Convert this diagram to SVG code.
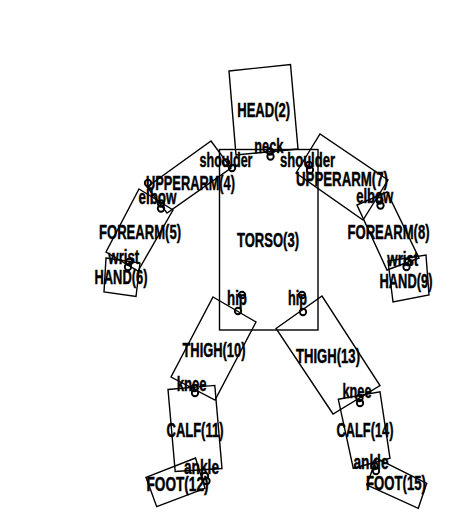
<svg xmlns="http://www.w3.org/2000/svg" width="474" height="531" viewBox="0 0 474 531">
<style>
.part{fill:none;stroke:#000;stroke-width:1.4;stroke-linejoin:miter}
.jt{fill:none;stroke:#000;stroke-width:1.9}
text{font-family:"Liberation Sans Narrow","Liberation Sans",Arial,sans-serif;font-weight:bold;font-size:19.5px;fill:#000;stroke:#000;stroke-width:0.45;text-anchor:middle}
</style>
<rect width="474" height="531" fill="#fff"/>
<g id="HEAD2"><polygon class="part" points="229,71 290.5,64.5 298,149 236,155"/><text x="263.7" y="117" textLength="53" lengthAdjust="spacingAndGlyphs">HEAD(2)</text></g>
<g id="TORSO3"><rect class="part" x="219.5" y="149.5" width="98.5" height="180.5"/><text x="268" y="247" textLength="62" lengthAdjust="spacingAndGlyphs">TORSO(3)</text></g>
<g id="UPPERARM4"><polygon class="part" points="147,187 211,141 231,168 167,213"/><text x="190.5" y="190" textLength="89" lengthAdjust="spacingAndGlyphs">UPPERARM(4)</text></g>
<g id="FOREARM5"><polygon class="part" points="139,189 173,210 138,271 106,252"/><text x="140" y="238.5" textLength="82" lengthAdjust="spacingAndGlyphs">FOREARM(5)</text></g>
<g id="HAND6"><polygon class="part" points="106,258 140,263 136,296.5 104,292"/><text x="121" y="283.5" textLength="53" lengthAdjust="spacingAndGlyphs">HAND(6)</text></g>
<g id="UPPERARM7"><polygon class="part" points="296,173 320,134 388,180 363,220"/><text x="342" y="186" textLength="92" lengthAdjust="spacingAndGlyphs">UPPERARM(7)</text></g>
<g id="FOREARM8"><polygon class="part" points="357,205 387,192 419,258 387,270"/><text x="388.5" y="238.5" textLength="82" lengthAdjust="spacingAndGlyphs">FOREARM(8)</text></g>
<g id="HAND9"><polygon class="part" points="388,261 426,255 429,295 393,302"/><text x="406" y="288" textLength="53" lengthAdjust="spacingAndGlyphs">HAND(9)</text></g>
<g id="THIGH10"><polygon class="part" points="213,297 256,322 215,400 171,377"/><text x="214" y="356.5" textLength="63" lengthAdjust="spacingAndGlyphs">THIGH(10)</text></g>
<g id="CALF11"><polygon class="part" points="168,389.5 214.8,385.4 222,468.5 175.2,471.5"/><text x="195" y="437" textLength="57" lengthAdjust="spacingAndGlyphs">CALF(11)</text></g>
<g id="FOOT12"><polygon class="part" points="146,477.3 195.5,458 205,488.3 156.7,506.7"/><text x="177.5" y="490.5" textLength="62" lengthAdjust="spacingAndGlyphs">FOOT(12)</text></g>
<g id="THIGH13"><polygon class="part" points="276,328.5 322,296 380,385.5 333,414"/><text x="328" y="362.5" textLength="64" lengthAdjust="spacingAndGlyphs">THIGH(13)</text></g>
<g id="CALF14"><polygon class="part" points="338.3,399.3 380,391.7 390,458.3 353.3,468.3"/><text x="365" y="437" textLength="57" lengthAdjust="spacingAndGlyphs">CALF(14)</text></g>
<g id="FOOT15"><polygon class="part" points="376.7,458.3 426.7,483.3 418.3,508.3 366.7,485"/><text x="396" y="489.5" textLength="60" lengthAdjust="spacingAndGlyphs">FOOT(15)</text></g>
<g id="connectors">
<g id="neck"><circle class="jt" cx="270" cy="151.5" r="3.2"/><circle class="jt" cx="270.5" cy="156.5" r="3.2"/><text x="268.8" y="153" textLength="29" lengthAdjust="spacingAndGlyphs">neck</text></g>
<g id="shoulderL"><circle class="jt" cx="226" cy="162.5" r="3.2"/><circle class="jt" cx="232" cy="168" r="3.2"/><text x="226" y="167" textLength="53" lengthAdjust="spacingAndGlyphs">shoulder</text></g>
<g id="shoulderR"><circle class="jt" cx="309" cy="165" r="3.2"/><circle class="jt" cx="310" cy="170" r="3.2"/><text x="307.5" y="167" textLength="55" lengthAdjust="spacingAndGlyphs">shoulder</text></g>
<g id="elbowL"><circle class="jt" cx="148" cy="183" r="3.2"/><circle class="jt" cx="161" cy="203.5" r="3.2"/><circle class="jt" cx="161" cy="208.5" r="3.2"/><text x="157.5" y="203.5" textLength="38" lengthAdjust="spacingAndGlyphs">elbow</text></g>
<g id="elbowR"><circle class="jt" cx="379.5" cy="200.5" r="3.2"/><circle class="jt" cx="380.5" cy="205.5" r="3.2"/><text x="374.7" y="203" textLength="37" lengthAdjust="spacingAndGlyphs">elbow</text></g>
<g id="wristL"><circle class="jt" cx="129" cy="262" r="3.2"/><circle class="jt" cx="128" cy="267" r="3.2"/><text x="123.8" y="264" textLength="31" lengthAdjust="spacingAndGlyphs">wrist</text></g>
<g id="wristR"><circle class="jt" cx="408" cy="262" r="3.2"/><circle class="jt" cx="406.5" cy="267" r="3.2"/><text x="402.8" y="266" textLength="31" lengthAdjust="spacingAndGlyphs">wrist</text></g>
<g id="hipL"><circle class="jt" cx="242" cy="295" r="3.2"/><circle class="jt" cx="238" cy="311" r="3.2"/><text x="237" y="305" textLength="20" lengthAdjust="spacingAndGlyphs">hip</text></g>
<g id="hipR"><circle class="jt" cx="302" cy="295" r="3.2"/><circle class="jt" cx="303" cy="312" r="3.2"/><text x="297.5" y="305" textLength="19" lengthAdjust="spacingAndGlyphs">hip</text></g>
<g id="kneeL"><circle class="jt" cx="194.5" cy="388" r="3.2"/><circle class="jt" cx="195" cy="393" r="3.2"/><text x="191.7" y="391" textLength="30" lengthAdjust="spacingAndGlyphs">knee</text></g>
<g id="kneeR"><circle class="jt" cx="359.5" cy="398" r="3.2"/><circle class="jt" cx="360" cy="403" r="3.2"/><text x="357" y="398" textLength="29" lengthAdjust="spacingAndGlyphs">knee</text></g>
<g id="ankleL"><circle class="jt" cx="205" cy="476" r="3.2"/><circle class="jt" cx="206.5" cy="481" r="3.2"/><text x="201.5" y="474" textLength="35" lengthAdjust="spacingAndGlyphs">ankle</text></g>
<g id="ankleR"><circle class="jt" cx="374.5" cy="466" r="3.2"/><circle class="jt" cx="376" cy="471" r="3.2"/><text x="371" y="469" textLength="35" lengthAdjust="spacingAndGlyphs">ankle</text></g>
</g>
</svg>
